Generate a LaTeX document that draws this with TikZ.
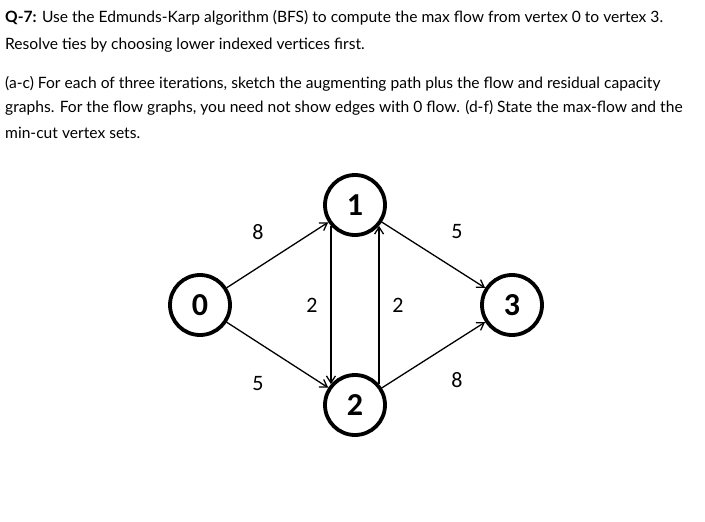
\documentclass[tikz,border=0pt]{standalone}
\usepackage{fontspec}
\setmainfont{Lato}
\newfontfamily\calib{Carlito}
\usetikzlibrary{arrows.meta}
\begin{document}
\begin{tikzpicture}[x=1pt,y=-1pt,
  txt/.style={anchor=west,inner sep=0pt,font=\fontsize{15.6}{18}\selectfont},
  vert/.style={circle,draw,line width=3.8pt,minimum size=60pt,inner sep=0pt,font=\calib\bfseries\fontsize{32}{34}\selectfont},
  edge/.style={line width=1.3pt,-{Straight Barb[length=7pt,width=9pt]}},
  lab/.style={font=\calib\fontsize{22}{24}\selectfont,inner sep=0pt}]
\useasboundingbox (0,0) rectangle (705,522);
\node[txt] (t1) at (5,18) {\textbf{Q-7:} Use the Edmunds-Karp algorithm (BFS) to compute the max flow from vertex 0 to vertex 3.};
\node[txt] (t2) at (5,45) {Resolve ties by choosing lower indexed vertices first.};
\node[txt] (t3) at (5,84) {(a-c) For each of three iterations, sketch the augmenting path plus the flow and residual capacity};
\node[txt] (t4) at (5,108) {graphs. For the flow graphs, you need not show edges with 0 flow. (d-f) State the max-flow and the};
\node[txt] (t5) at (5,133) {min-cut vertex sets.};
\node[vert] (n0) at (200,305) {0};
\node[vert] (n1) at (355,205) {1};
\node[vert] (n2) at (355,405) {2};
\node[vert] (n3) at (512,305) {3};
\draw[edge] (n0) -- (n1);
\draw[edge] (n0) -- (n2);
\draw[edge] (n1) -- (n3);
\draw[edge] (n2) -- (n3);
\draw[edge] (n1.221) -- (n2.139);
\draw[edge] (n2.41) -- (n1.319);
\node[lab] (l01) at (258,232) {8};
\node[lab] (l13) at (457,232) {5};
\node[lab] (l12) at (312,305) {2};
\node[lab] (l21) at (398,305) {2};
\node[lab] (l02) at (258,384) {5};
\node[lab] (l23) at (457,380) {8};
\end{tikzpicture}
\end{document}
